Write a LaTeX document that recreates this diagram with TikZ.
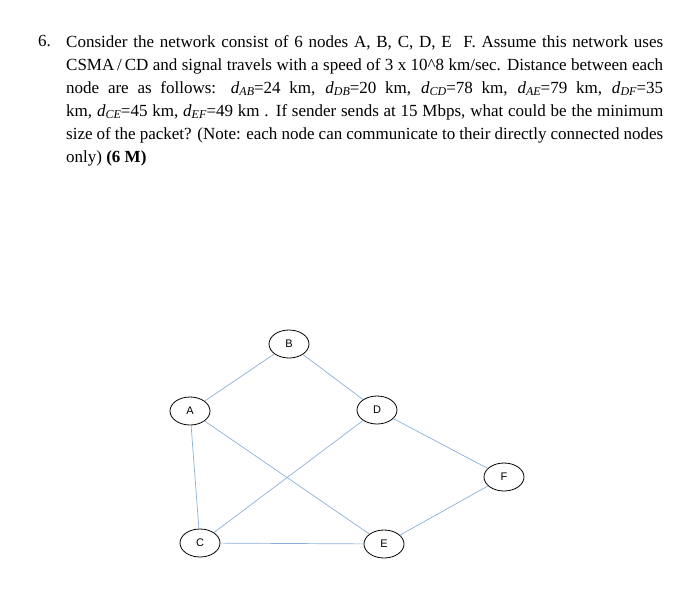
\documentclass[tikz,border=0pt]{standalone}
\usepackage{fontspec}
\setmainfont{Liberation Serif}
\setsansfont{Liberation Sans}
\usetikzlibrary{shapes.geometric}
\newcommand{\dsub}[1]{\textit{d}\raisebox{-0.35ex}{\fontsize{12}{12}\selectfont\textit{#1}}}
\definecolor{edgeblue}{RGB}{140,175,220}
\begin{document}
\begin{tikzpicture}[x=1pt,y=-1pt,
  nd/.style={draw=black,line width=0.8pt,ellipse,minimum width=40pt,minimum height=28pt,inner sep=0pt,font=\sffamily\fontsize{11}{11}\selectfont,fill=white},
  ed/.style={draw=edgeblue,line width=0.7pt},
  para/.style={anchor=north west,inner sep=0pt,font=\fontsize{17}{23}\selectfont}]
\useasboundingbox (0,0) rectangle (700,590);
\node[para] (num) at (38,35) {6.};
\node[para,text width=597pt,align=justify] (txt) at (66,35) {%
Consider the network consist of 6 nodes A, B, C, D, E\ \ F. Assume this network uses\linebreak
CSMA\,/\,CD and signal travels with a speed of 3 x 10\^{}8 km/sec. Distance between each\linebreak
node are as follows: \dsub{AB}=24 km, \dsub{DB}=20 km, \dsub{CD}=78 km, \dsub{AE}=79 km, \dsub{DF}=35\linebreak
km, \dsub{CE}=45 km, \dsub{EF}=49 km . If sender sends at 15 Mbps, what could be the minimum\linebreak
size of the packet? (Note: each node can communicate to their directly connected nodes\linebreak
only) \textbf{(6 M)}\par};
\node[nd] (B) at (289,344) {B};
\node[nd] (A) at (190,411) {A};
\node[nd] (D) at (377,410) {D};
\node[nd] (F) at (504,477) {F};
\node[nd] (C) at (200,543) {C};
\node[nd] (E) at (384,544) {E};
\draw[ed] (A) -- (B);
\draw[ed] (B) -- (D);
\draw[ed] (A) -- (C);
\draw[ed] (A) -- (E);
\draw[ed] (C) -- (D);
\draw[ed] (C) -- (E);
\draw[ed] (E) -- (F);
\draw[ed] (D) -- (F);
\end{tikzpicture}
\end{document}
